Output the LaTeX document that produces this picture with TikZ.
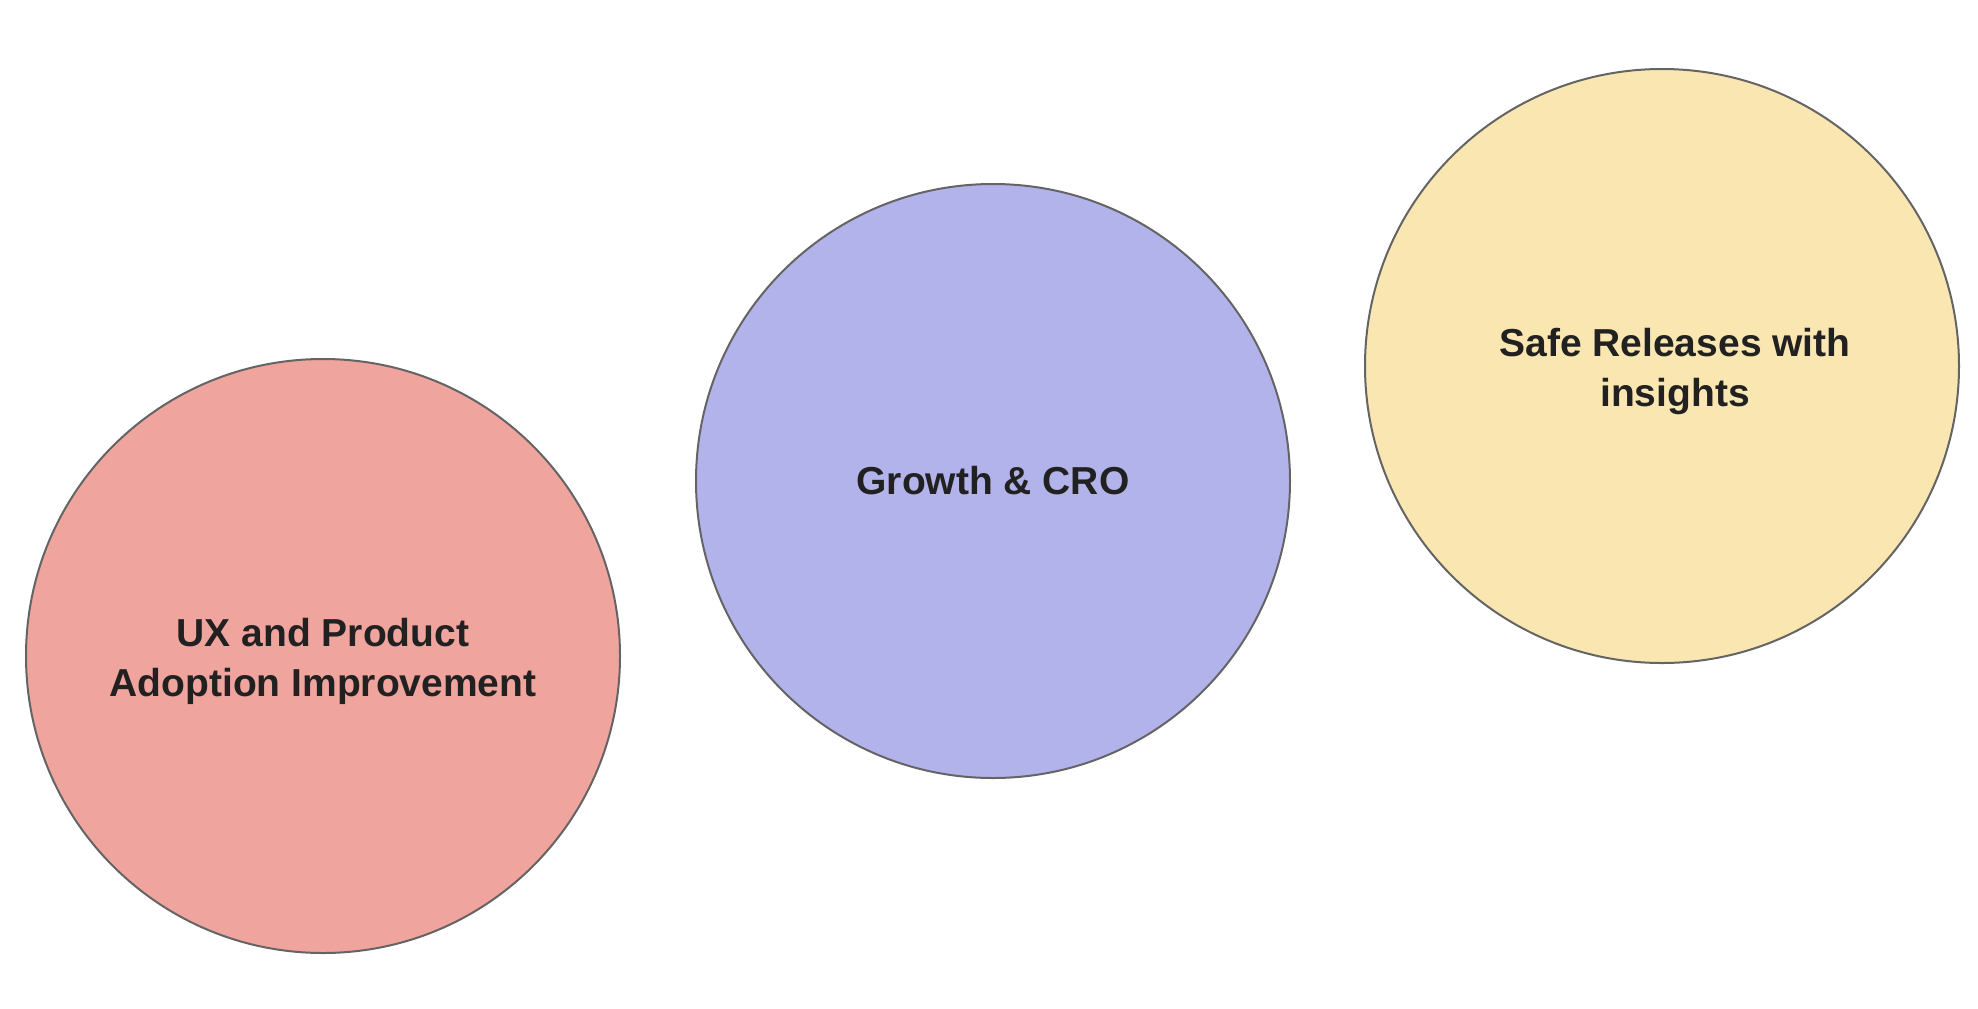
\documentclass[tikz,border=0pt]{standalone}
\usepackage{fontspec}
\setmainfont{Liberation Sans}
\definecolor{uxred}{RGB}{240,164,158}
\definecolor{growblue}{RGB}{179,179,236}
\definecolor{safeyellow}{RGB}{250,230,177}
\definecolor{rimgray}{RGB}{100,100,100}
\tikzset{bubble/.style={circle, draw=rimgray, line width=1pt, minimum size=297pt, inner sep=0pt},
  bubbletext/.style={align=center, text=black!87, inner sep=0pt, font=\fontsize{19.5}{25}\selectfont\bfseries}}
\begin{document}
\begin{tikzpicture}[x=0.5pt,y=-0.5pt]%
\useasboundingbox (0,0) rectangle (1978,1008);%
\node[bubble, fill=uxred] (ux) at (323,656) {};%
\node[bubble, fill=growblue] (growth) at (993,481) {};%
\node[bubble, fill=safeyellow] (safe) at (1662,366) {};%
\node[bubbletext, yshift=-2.5pt] (ux text) at (ux) {UX and Product\\Adoption Improvement};%
\node[bubbletext] (growth text) at (growth) {Growth \& CRO};%
\node[bubbletext, xshift=6.5pt, yshift=-2.5pt] (safe text) at (safe) {Safe Releases with\\insights};%
\end{tikzpicture}
\end{document}
